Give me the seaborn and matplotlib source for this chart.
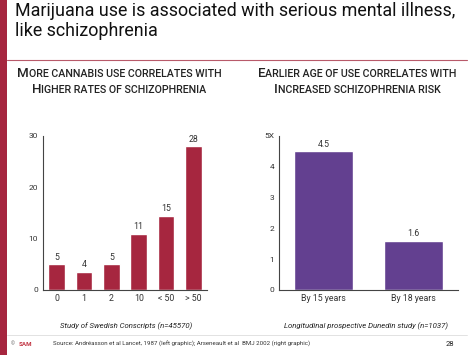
import numpy as np
import pandas as pd
import matplotlib
matplotlib.use("Agg")
import matplotlib.pyplot as plt
import seaborn as sns

sns.set_style("white")
plt.rcParams["font.family"] = ["Roboto", "DejaVu Sans"]

# left chart: cannabis use (times) vs schizophrenia rate
use_cats = ["0", "1", "2", "10", "< 50", "> 50"]
use_vals = [5, 3.5, 5, 11, 14.5, 28]
use_lbls = ["5", "4", "5", "11", "15", "28"]

# right chart: age of first use vs relative risk
age_cats = ["By 15 years", "By 18 years"]
age_vals = [4.5, 1.6]
age_lbls = ["4.5", "1.6"]

RED = "#a6263f"
PURPLE = "#634090"
AX = "#444444"

W, H = 474, 355
fig = plt.figure(figsize=(W / 100, H / 100), dpi=100)
fig.patch.set_facecolor("white")

def px(x0, y0, x1, y1):
    # pixel box -> figure fraction rect
    return [x0 / W, 1 - y1 / H, (x1 - x0) / W, (y1 - y0) / H]

# decoration: red side bar, rules
fig.add_artist(plt.Rectangle((0, 0), 7 / W, 1, transform=fig.transFigure, color=RED, lw=0))
fig.add_artist(plt.Line2D([7 / W, 467 / W], [1 - 60 / H] * 2, transform=fig.transFigure, color="#b85a6a", lw=0.8))
fig.add_artist(plt.Line2D([7 / W, 467 / W], [1 - 335 / H] * 2, transform=fig.transFigure, color="#dddddd", lw=0.6))

fig.text(15 / W, 1 - 21 / H, "Marijuana use is associated with serious mental illness,\nlike schizophrenia",
         fontsize=12.9, va="center", ha="left", color="#111111", linespacing=1.2)

def small_caps(xc, yc, first, rest):
    # fake small caps: one larger capital followed by smaller ones
    big, small = 9.6, 7.7
    t1 = fig.text(0, 0, first, fontsize=big, fontweight="medium", color="#222222")
    t2 = fig.text(0, 0, rest, fontsize=small, fontweight="medium", color="#222222")
    fig.canvas.draw()
    r = fig.canvas.get_renderer()
    w1 = t1.get_window_extent(r).width
    w2 = t2.get_window_extent(r).width
    x0 = xc - (w1 + w2) / 2
    t1.set_position((x0 / W, 1 - yc / H))
    t2.set_position(((x0 + w1) / W, 1 - yc / H))
    t1.set_va("baseline")
    t2.set_va("baseline")

small_caps(119, 77, "M", "ORE CANNABIS USE CORRELATES WITH")
small_caps(119, 93, "H", "IGHER RATES OF SCHIZOPHRENIA")
small_caps(357, 77, "E", "ARLIER AGE OF USE CORRELATES WITH")
small_caps(357, 93, "I", "NCREASED SCHIZOPHRENIA RISK")

def style(ax):
    sns.despine(ax=ax)
    for s in ["left", "bottom"]:
        ax.spines[s].set_color(AX)
        ax.spines[s].set_linewidth(0.8)
    ax.tick_params(axis="y", length=2.5, width=0.8, color=AX, labelsize=6, labelcolor="#333333", pad=1)
    ax.tick_params(axis="x", length=0, labelsize=6.3, labelcolor="#333333", pad=3)
    ax.set_xlabel("")
    ax.set_ylabel("")
    ax.set_facecolor("white")

ax1 = fig.add_axes(px(43, 136, 207, 290))
df1 = pd.DataFrame({"use": use_cats, "rate": use_vals})
sns.barplot(data=df1, x="use", y="rate", color=RED, saturation=1, width=0.62, ax=ax1)
ax1.set_ylim(0, 30)
ax1.set_yticks([0, 10, 20, 30])
ax1.set_xlim(-0.5, 5.5)
for i, (v, l) in enumerate(zip(use_vals, use_lbls)):
    ax1.text(i, v + 0.5, l, ha="center", va="bottom", fontsize=6.3, color="#333333")
style(ax1)

ax2 = fig.add_axes(px(279, 136, 458, 290))
df2 = pd.DataFrame({"age": age_cats, "risk": age_vals})
sns.barplot(data=df2, x="age", y="risk", color=PURPLE, saturation=1, width=0.66, ax=ax2)
ax2.set_ylim(0, 5)
ax2.set_yticks([0, 1, 2, 3, 4, 5])
ax2.set_yticklabels(["0", "1", "2", "3", "4", "5X"])
ax2.set_xlim(-0.5, 1.5)
for i, (v, l) in enumerate(zip(age_vals, age_lbls)):
    ax2.text(i, v + 0.09, l, ha="center", va="bottom", fontsize=6.3, color="#333333")
style(ax2)

fig.text(126 / W, 1 - 326 / H, "Study of Swedish Conscripts (n=45570)", fontsize=5.6,
         style="italic", ha="center", va="center", color="#222222")
fig.text(366 / W, 1 - 326 / H, "Longitudinal prospective Dunedin study (n=1037)", fontsize=5.6,
         style="italic", ha="center", va="center", color="#222222")

fig.text(53 / W, 1 - 344 / H,
         "Source: Andréasson et al Lancet, 1987 (left graphic); Arseneault et al  BMJ 2002 (right graphic)",
         fontsize=4.4, ha="left", va="center", color="#333333")
fig.text(450 / W, 1 - 344 / H, "28", fontsize=5.5, ha="center", va="center", color="#222222")
fig.text(11 / W, 1 - 344 / H, "©", fontsize=3.5, ha="left", va="center", color="#555555")
fig.text(19 / W, 1 - 344 / H, "SAM", fontsize=4.5, fontweight="bold", ha="left", va="center", color="#c0303f")

fig.savefig("out.png", dpi=100, facecolor="white")
